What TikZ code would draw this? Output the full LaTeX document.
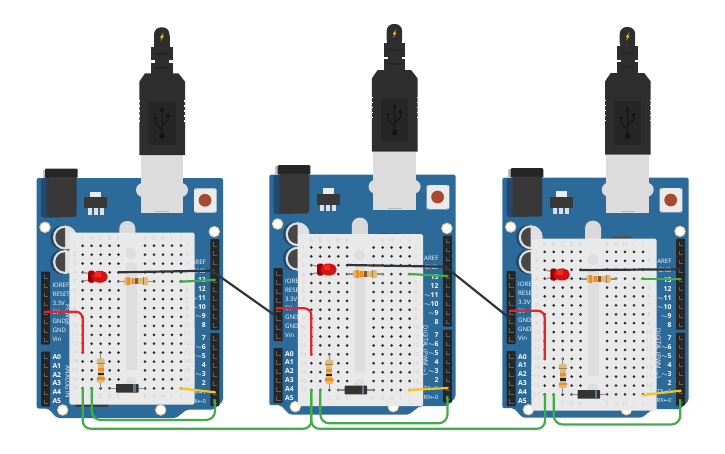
\documentclass[tikz,border=0pt]{standalone}
\usepackage{fontspec}
\setmainfont{Open Sans}
\newfontfamily\arwfont{DejaVu Sans}
\definecolor{pcb}{HTML}{2C6A9A}
\definecolor{pcbdark}{HTML}{23496F}
\definecolor{plugc}{HTML}{2E2E2E}
\definecolor{plugd}{HTML}{262626}
\definecolor{silver}{HTML}{DCDCDC}
\definecolor{bbc}{HTML}{E9E9E9}
\definecolor{trough}{HTML}{DEDEDE}
\definecolor{wgreen}{HTML}{3FAE49}
\definecolor{wred}{HTML}{E3262A}
\definecolor{wblack}{HTML}{303438}
\definecolor{wyellow}{HTML}{F5C518}
\definecolor{tan}{HTML}{DDB97C}
\definecolor{band}{HTML}{F28C1E}
\definecolor{bandb}{HTML}{8A5A2B}
\definecolor{btn}{HTML}{A84A30}
\tikzset{
 wirepath/.style={line width=2.2pt,line cap=round,rounded corners=#1},
 pinlabel/.style={text=white,font=\fontsize{6.1}{7}\selectfont,inner sep=0pt},
 txlabel/.style={text=white,font=\fontsize{5.6}{7}\selectfont,inner sep=0pt},
 biglabel/.style={text=white,font=\bfseries\fontsize{6.8}{8}\selectfont,inner sep=0pt},
 bblabel/.style={text=black!20,font=\fontsize{5.5}{6}\selectfont,inner sep=0pt},
 mounthole/.style={fill=white,draw=tan!70,line width=1pt},
 lead/.style={draw=black!45,line width=1.1pt},
}
\newcommand{\hdr}[3]{% x, ytop, npins
  \fill[black!85,rounded corners=0.8pt] (#1,#2) rectangle ++(9,#3*9+1);
  \foreach \k in {1,...,#3}{
    \draw[black!62,line width=0.7pt] ({#1+3},{#2+\k*9-6}) -- ({#1+3},{#2+\k*9-2}) -- ({#1+7},{#2+\k*9-2});
  }
}
\newcommand{\arduino}[3]{%
\begin{scope}[shift={(#2,#3)}]
 % board
 \fill[pcb,rounded corners=2pt] (36.7,178) -- (223,178) -- (223,401) -- (214,409.5) -- (187,409.5) -- (176,418) -- (57,418) -- (48,408.5) -- (36.7,408.5) -- cycle;
 % jack
 \fill[pcbdark,rounded corners=3pt] (41,178) rectangle (62,217.5);
 \fill[black!25] (42.5,169.5) rectangle (47,178);
 \fill[black!85,rounded corners=1pt] (45,168.5) rectangle (77.7,178);
 \fill[black!78,rounded corners=3pt] (46.7,177) rectangle (76.7,217);
 % regulator
 \fill[white!92!black] (90,191.7) rectangle (101,197.5);
 \fill[black!78] (84,197) rectangle (107.3,208.3);
 \foreach \px in {87.5,93.5,99.5}{\fill[black!12] (\px,208.3) rectangle ++(4,6.2);}
 % button
 \fill[black!8,rounded corners=1.5pt] (194,188.3) rectangle (216.7,212.7);
 \fill[fill=black!30] (196,189) circle [radius=0.9] (215,189) circle [radius=0.9] (196,212) circle [radius=0.9] (215,212) circle [radius=0.9];
 \fill[btn] (205,200.3) circle [radius=6.4];
 % USB socket
 \fill[silver] (143,190) circle [radius=7] (181,190) circle [radius=7];
 \fill[silver] (140.7,155) rectangle (183.3,213.3);
 \fill[black!28] (155,211) rectangle (169,212.3);
 % chips behind the breadboard
 \fill[black!70,rounded corners=1pt] (146,236.6) rectangle (166,245);
 \fill[black!80,rounded corners=1pt] (75,395) rectangle (108.3,406.7);
 % capacitors
 \foreach \cy in {237.5,262}{
  \fill[pcbdark] (62.5,\cy) circle [radius=12.3];
  \fill[black!12] (65,\cy) circle [radius=12];
  \begin{scope}\clip (50,\cy-12) rectangle (65,\cy+12);
   \fill[black!72] (65,\cy) circle [radius=9.7];
  \end{scope}
 }
 % bump
 \fill[black!15,rounded corners=7.5pt] (119.3,221) rectangle (135.3,245);
 % mount holes
 \draw[mounthole] (45,227.3) circle [radius=5.2] (214.3,231.7) circle [radius=5.2] (62.7,410) circle [radius=5.2] (160.7,410) circle [radius=5.2];
 % headers
 \hdr{41}{271.5}{8}
 \hdr{41}{351.5}{6}
 \hdr{210.3}{239}{10}
 \hdr{210.3}{333}{8}
 % labels
 \node[pinlabel,anchor=west] (#1iore) at (52.3,285) {IOREF};
 \node[pinlabel,anchor=west] (#1rese) at (52.3,294) {RESET};
 \node[pinlabel,anchor=west] (#1v33) at (52.3,303) {3.3V};
 \node[pinlabel,anchor=west] (#1v5) at (52.3,312) {5V};
 \node[pinlabel,anchor=west] (#1gnda) at (52.3,321) {GND};
 \node[pinlabel,anchor=west] (#1gndb) at (52.3,330) {GND};
 \node[pinlabel,anchor=west] (#1vin) at (52.3,339) {Vin};
 \foreach \lb [count=\i from 0] in {A0,A1,A2,A3,A4,A5}{
  \node[biglabel,anchor=west] (#1an\i) at (52.3,{357+8.85*\i}) {\lb};
 }
 \node[pinlabel,anchor=east] (#1aref) at (206,262) {AREF};
 \node[pinlabel,anchor=east] (#1gndr) at (206,271) {GND};
 \foreach \lb [count=\i from 0] in {13,12,$\sim$11,$\sim$10,$\sim$9,8}{
  \node[biglabel,anchor=east] (#1da\i) at (206,{280+9*\i}) {\lb};
 }
 \foreach \lb [count=\i from 0] in {7,$\sim$6,$\sim$5,4,$\sim$3,2}{
  \node[biglabel,anchor=east] (#1db\i) at (206,{338+9*\i}) {\lb};
 }
 \node[txlabel,anchor=east] (#1tx) at (206,392) {TX{\arwfont→}1};
 \node[txlabel,anchor=east] (#1rx) at (206,401) {RX{\arwfont←}0};
 \node[pinlabel,rotate=-90] (#1dig) at (192.4,354) {DIGITAL (PWM $\sim$)};
 \node[pinlabel,rotate=-90] (#1pow) at (67.7,315) {POWER};
 \node[pinlabel,rotate=-90] (#1ana) at (67.7,382) {ANALOG IN};
\end{scope}}
\newcommand{\plug}[3]{%
\begin{scope}[shift={(#2,#3)}]
 \fill[plugc,rounded corners=7pt] (154,27.3) -- (169.5,27.3) -- (169.5,50) -- (154,50) -- cycle;
 \fill[plugc] (154,36) rectangle (169.5,48);
 \fill[plugc] (151,46.7) rectangle (172.5,60);
 \fill[plugc] (155,59) rectangle (169,64);
 \fill[plugc] (151,62.7) rectangle (172.5,73.8);
 \fill[plugd] (155,52) rectangle (169,54.5);
 \fill[plugd] (155,66) rectangle (169,68.5);
 \fill[plugc] (145,73.3) -- (178.5,73.3) -- (185,81.7) -- (185,155) -- (139.3,155) -- (139.3,81.7) -- cycle;
 \foreach \ny in {100,105,110,115,120}{
  \fill[white] (139.3,\ny) rectangle ++(0.9,1.6);
  \fill[white] (184.1,\ny) rectangle ++(0.9,1.6);
 }
 \fill[plugd] (148.3,101.7) rectangle (175.7,145);
 \draw[black!92,line width=1pt] (162,110) -- (162,135)
   (162,130) -- (155.5,123) -- (155.5,119)
   (162,126) -- (168,120) -- (168,116);
 \fill[black!92] (162,136) circle [radius=2.9];
 \fill[black!92] (155.5,118) circle [radius=1.6];
 \fill[black!92] (166.4,113.5) rectangle ++(3.2,3.2);
 \fill[black!92] (162,106.8) -- (164,111) -- (160,111) -- cycle;
 \fill[wyellow] (163.6,32.5) -- (160,37.5) -- (161.7,37.5) -- (160.3,41) -- (164,35.8) -- (162.2,35.8) -- cycle;
\end{scope}}
\newcommand{\breadboard}[3]{%
\begin{scope}[shift={(#2,#3)}]
 \fill[bbc,rounded corners=1.5pt] (69.3,232.5) rectangle (194.5,404.5);
 \fill[trough] (131,253.3) circle [radius=5.6];
 \fill[trough] (126.4,263.3) rectangle (136.7,370);
 \fill[trough] (131,382.5) circle [radius=5.6];
 \foreach \cx in {82.7,91.7,100.7,109.7,118.5,145,154,163,172,181}{
  \foreach \r in {0,...,16}{
   \fill[black!82] (\cx,{245.7+8.91*\r}) circle [radius=1.5];
  }
 }
 \foreach \lb [count=\i from 0] in {A,B,C,D,E}{
  \node[bblabel] (#1ct\i) at ({82.7+8.95*\i},238.5) {\lb};
  \node[bblabel] (#1cb\i) at ({82.7+8.95*\i},397) {\lb};
 }
 \foreach \lb [count=\i from 0] in {F,G,H,I,J}{
  \node[bblabel] (#1dt\i) at ({145+9*\i},238.5) {\lb};
  \node[bblabel] (#1db\i) at ({145+9*\i},397) {\lb};
 }
 \foreach \r in {1,...,17}{
  \node[bblabel] (#1rl\r) at (74.8,{245.7+8.91*(\r-1)}) {\r};
  \node[bblabel] (#1rr\r) at (187.3,{245.7+8.91*(\r-1)}) {\r};
 }
\end{scope}}
% resistor: x, y, half lead length, angle, then second and third bands' positions and colours
\newcommand{\resistor}[8]{%
\begin{scope}[shift={(#1,#2)},rotate=#4]
 \draw[lead] (-#3,0) -- (#3,0);
 \fill[tan,rounded corners=2.2pt] (-12.2,-4) rectangle (-6,4);
 \fill[tan,rounded corners=2.2pt] (6,-4) rectangle (12.2,4);
 \fill[tan] (-8,-3) rectangle (8,3);
 \fill[band] (-9.3,-4) rectangle (-6.5,4);
 \fill[#6] (#5,-3) rectangle ++(2.6,6);
 \fill[#8] (#7,-3) rectangle ++(2.6,6);
 \fill[brown!75!black!70!tan] (7,-4) rectangle (8,4);
\end{scope}}
\newcommand{\diode}[3]{%
\begin{scope}[shift={(#1,#2)}]
 \draw[lead] (-17.7,0) -- (17.7,0);
 \fill[black!80,rounded corners=0.6pt] (-11.2,-4.3) rectangle (11.2,4.3);
 \fill[pcb!60!black!70] (6,-4.3) rectangle (8.4,4.3);
\end{scope}}
\newcommand{\ledpart}[2]{%
\begin{scope}[shift={(#1,#2)}]
 \draw[lead] (-15,-4.5) -- (-8,-3) (-15,4.5) -- (-8,3);
 \fill[red!62!black,rounded corners=2pt] (-9.5,-6) rectangle (-3,6);
 \fill[red!80!black!90!pink,rounded corners=5.6pt] (-6,-5.8) rectangle (10,5.8);
 \fill[red!85!white] (-3,-5) rectangle (3,0);
\end{scope}}
\begin{document}
\begin{tikzpicture}[x=1pt,y=-1pt]
\useasboundingbox (0,0) rectangle (725,453);
\arduino{ba}{0}{0}
\arduino{bb}{232.6}{-3.3}
\arduino{bc}{465.7}{-0.3}
\breadboard{ma}{0}{0}
\breadboard{mb}{228.6}{1.7}
\breadboard{mc}{462}{6.2}
\plug{ua}{0}{0}
\plug{ub}{232.6}{-3.3}
\plug{uc}{465.7}{-0.3}
% components
\ledpart{97.7}{276.7}
\ledpart{326.6}{269.5}
\ledpart{559.8}{274.5}
\resistor{136.2}{281.3}{17.8}{0}{-4.6}{band}{-0.8}{bandb}
\resistor{365}{274}{17.8}{0}{-4.6}{band}{-0.8}{bandb}
\resistor{598.7}{279}{17.8}{0}{-4.6}{band}{-0.8}{bandb}
\resistor{100.7}{370.5}{17.8}{90}{-4.6}{black!85}{0}{band}
\resistor{329.3}{371.7}{18.2}{90}{-4.6}{black!85}{0}{band}
\resistor{562.7}{376}{18.2}{90}{-4.6}{black!85}{0}{band}
\diode{127.3}{388.3}{}
\diode{355.9}{390}{}
\diode{588.9}{394.4}{}
% wire ends
\coordinate (kaa) at (118.3,272.3); \coordinate (kab) at (211.7,270.7); \coordinate (kac) at (276.5,316.5);
\coordinate (kba) at (347,265); \coordinate (kbb) at (445.3,266.7); \coordinate (kbc) at (510,318.5);
\coordinate (kca) at (580,270); \coordinate (kcb) at (680,269.3);
\coordinate (gaa) at (180,281.7); \coordinate (gab) at (215,280);
\coordinate (gba) at (408.7,274); \coordinate (gbb) at (447.7,276);
\coordinate (gca) at (641.7,278.7); \coordinate (gcb) at (680.7,278.7);
\coordinate (raa) at (45,311.7); \coordinate (rab) at (82.7,311.7); \coordinate (rac) at (82.7,352.7);
\coordinate (rba) at (277,308.3); \coordinate (rbb) at (311.3,308.3); \coordinate (rbc) at (311.3,355);
\coordinate (rca) at (510,310.7); \coordinate (rcb) at (544.7,310.7); \coordinate (rcc) at (544.7,359.3);
\coordinate (yaa) at (180,388.3); \coordinate (yab) at (215,392.3);
\coordinate (yba) at (408.7,390); \coordinate (ybb) at (447.7,388);
\coordinate (yca) at (642.7,395); \coordinate (ycb) at (680.7,390.7);
\coordinate (laa) at (82.7,388.3); \coordinate (lab) at (82.7,428.8); \coordinate (lac) at (311.3,428.8); \coordinate (lad) at (311.3,390);
\coordinate (lbb) at (545,428.8); \coordinate (lbc) at (545,394.3);
\coordinate (maa) at (91.7,388.3); \coordinate (mab) at (91.7,420); \coordinate (mac) at (215,420); \coordinate (mad) at (215,400);
\coordinate (mba) at (320.3,390); \coordinate (mbb) at (320.3,423.3); \coordinate (mbc) at (447.5,423.3); \coordinate (mbd) at (447.5,396.7);
\coordinate (mca) at (553.7,394.3); \coordinate (mcb) at (553.7,424.5); \coordinate (mcc) at (680.3,424.5); \coordinate (mcd) at (680.3,400);
% wires
\draw[wirepath=8pt,wgreen] (laa) -- (lab) -- (lac) -- (lad);
\draw[wirepath=8pt,wgreen] (lad) -- (lac) -- (lbb) -- (lbc);
\draw[wirepath=9pt,wgreen] (maa) -- (mab) -- (mac) -- (mad);
\draw[wirepath=9pt,wgreen] (mba) -- (mbb) -- (mbc) -- (mbd);
\draw[wirepath=9pt,wgreen] (mca) -- (mcb) -- (mcc) -- (mcd);
\draw[wirepath=1pt,wgreen] (gaa) -- (gab);
\draw[wirepath=1pt,wgreen] (gba) -- (gbb);
\draw[wirepath=1pt,wgreen] (gca) -- (gcb);
\draw[wirepath=7pt,wred] (raa) -- (rab) -- (rac);
\draw[wirepath=7pt,wred] (rba) -- (rbb) -- (rbc);
\draw[wirepath=7pt,wred] (rca) -- (rcb) -- (rcc);
\draw[wirepath=1pt,wyellow] (yaa) -- (yab);
\draw[wirepath=1pt,wyellow] (yba) -- (ybb);
\draw[wirepath=1pt,wyellow] (yca) -- (ycb);
\draw[wirepath=2pt,wblack] (kaa) -- (kab) -- (kac);
\draw[wirepath=2pt,wblack] (kba) -- (kbb) -- (kbc);
\draw[wirepath=1pt,wblack] (kca) -- (kcb);
\end{tikzpicture}
\end{document}
